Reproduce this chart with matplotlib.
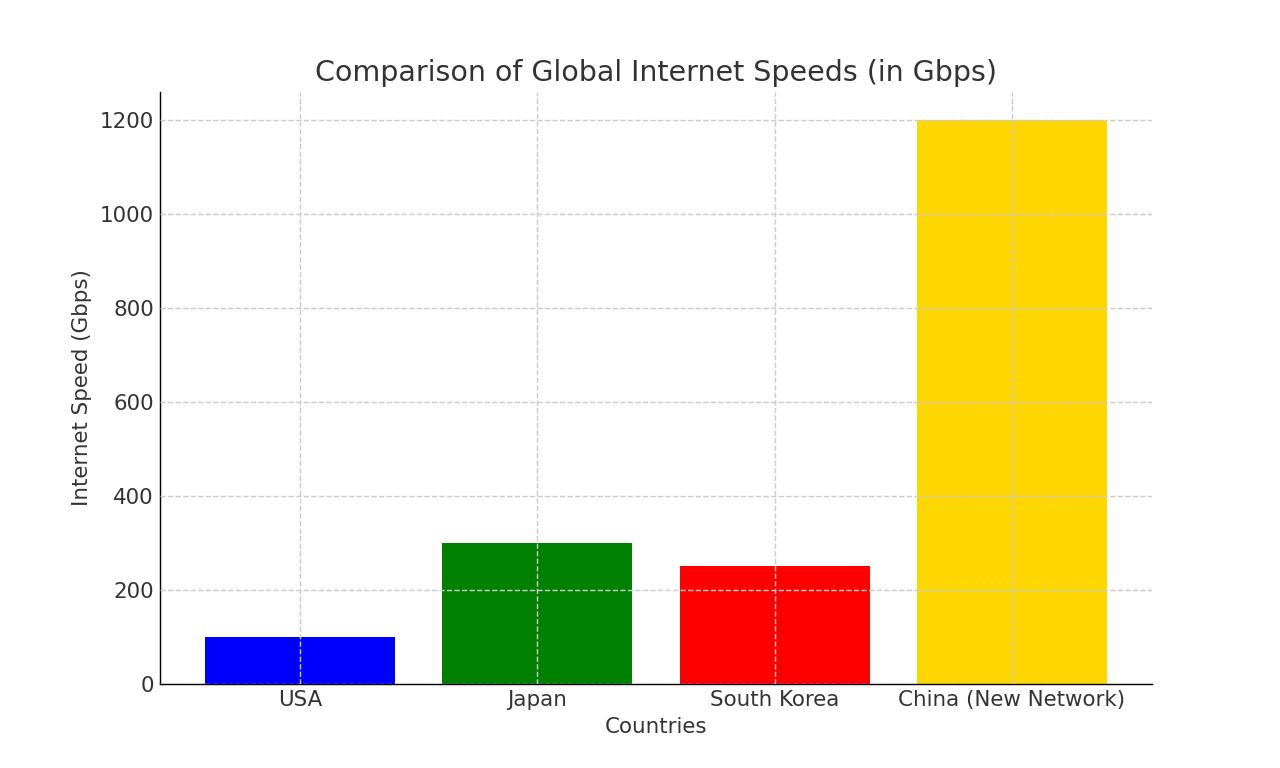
import matplotlib
matplotlib.use("Agg")
import matplotlib.pyplot as plt

countries = ["USA", "Japan", "South Korea", "China (New Network)"]
speeds = [100, 300, 250, 1200]
colors = ["blue", "green", "red", "gold"]

plt.rcParams['text.color'] = '#333333'
plt.rcParams['axes.labelcolor'] = '#333333'
plt.rcParams['xtick.color'] = '#333333'
plt.rcParams['ytick.color'] = '#333333'

fig, ax = plt.subplots(figsize=(10, 6), dpi=128)
ax.bar(countries, speeds, color=colors, width=0.8, zorder=2)
ax.set_title("Comparison of Global Internet Speeds (in Gbps)", fontsize=16)
ax.set_xlabel("Countries", fontsize=12)
ax.set_ylabel("Internet Speed (Gbps)", fontsize=12)
ax.tick_params(labelsize=12, length=0)
ax.grid(True, linestyle='--', color='#cccccc', linewidth=0.8, zorder=0)
ax.set_axisbelow(False)
for s in ['top', 'right']:
    ax.spines[s].set_visible(False)
fig.savefig("out.png", dpi=128)
